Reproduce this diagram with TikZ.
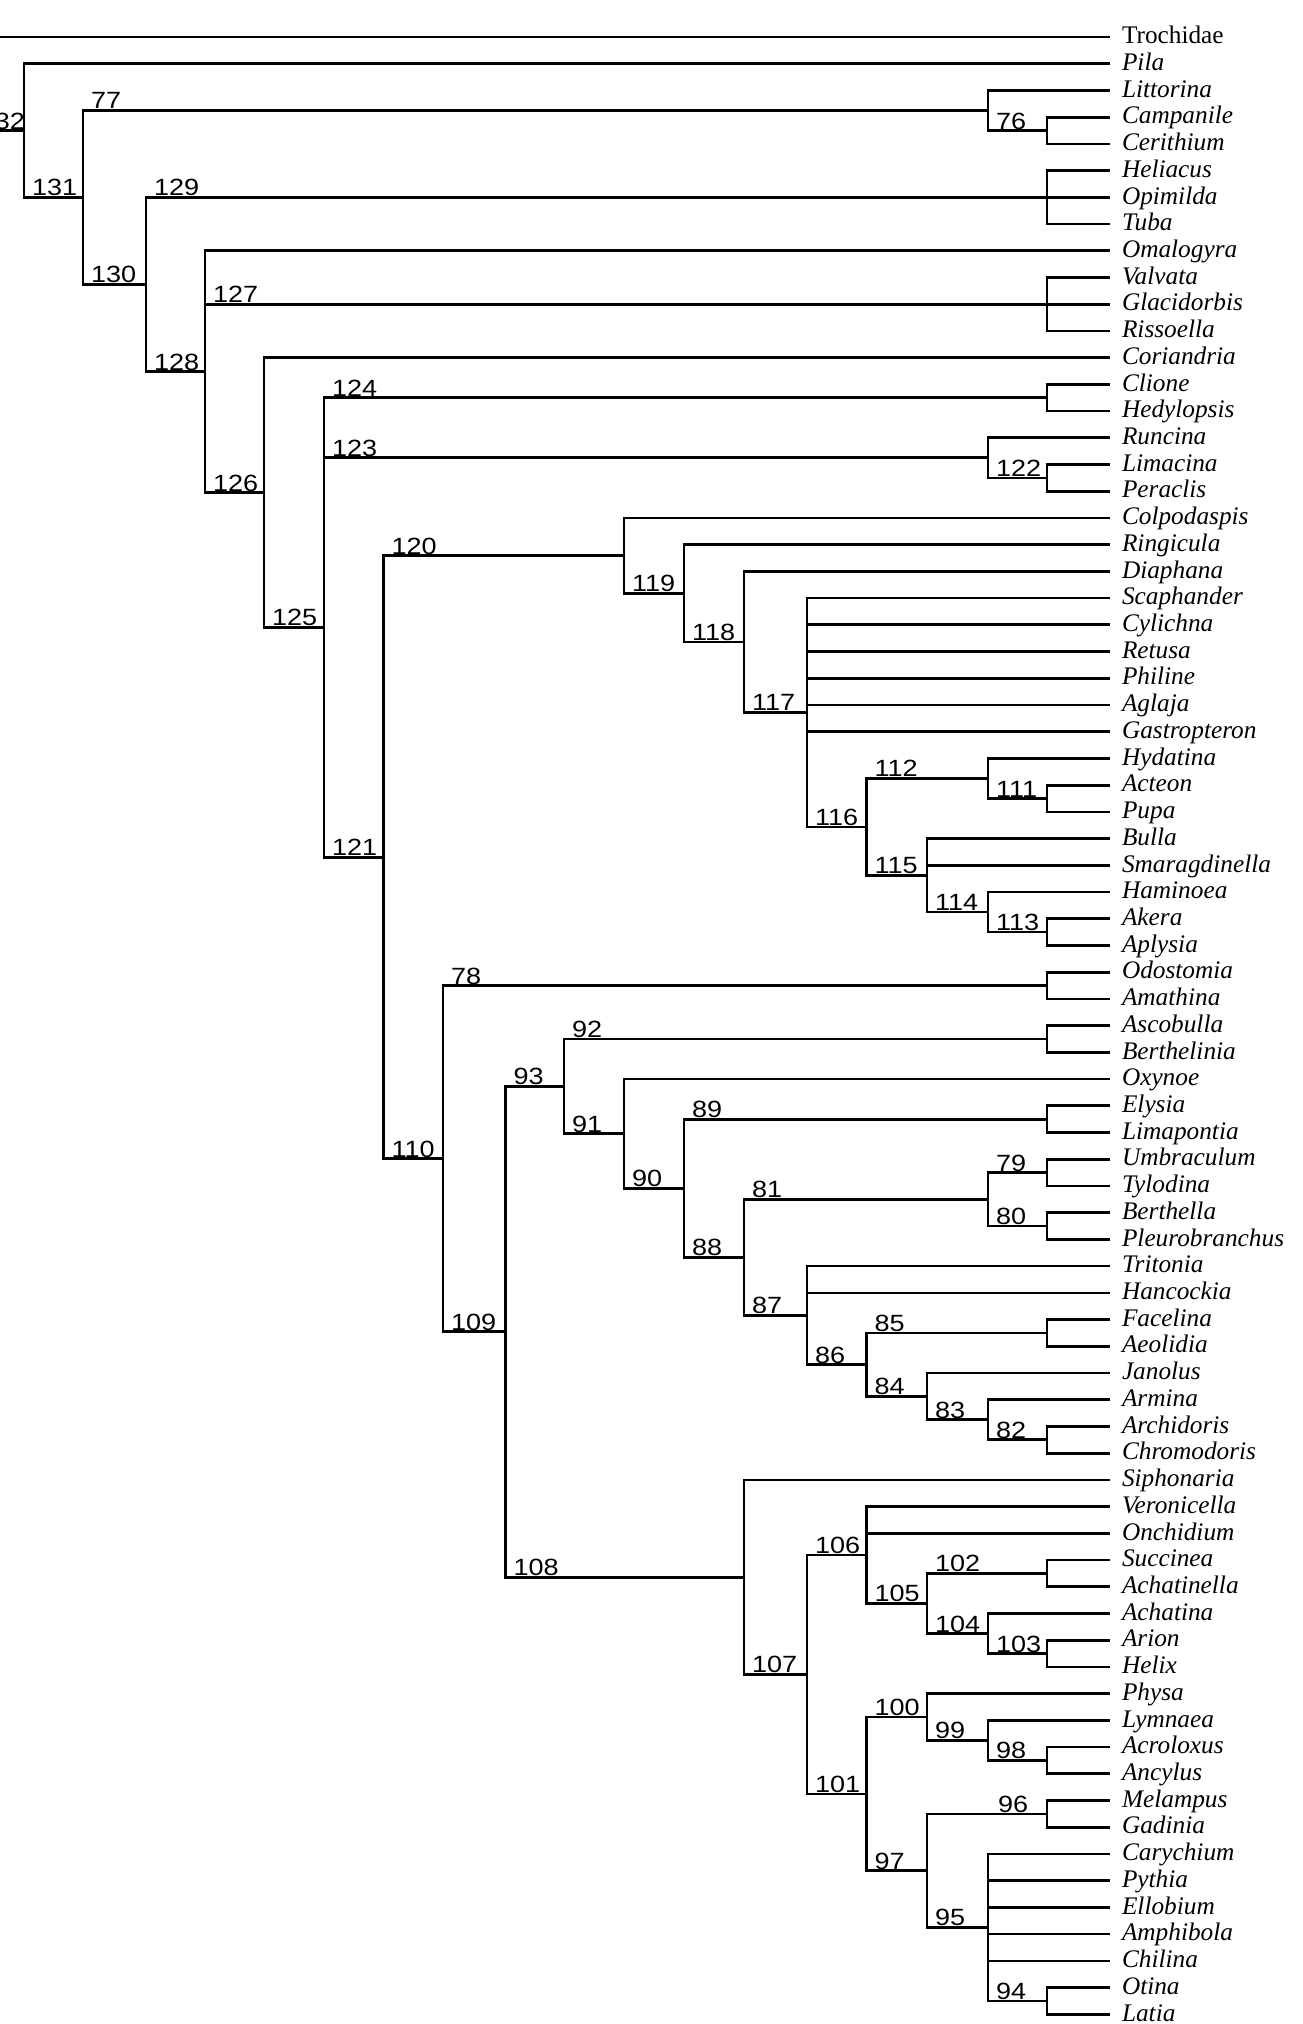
\documentclass[tikz,border=0pt]{standalone}
\usepackage{fontspec}
\setmainfont{Liberation Serif}
\newfontfamily\numfont{Liberation Sans}[FakeStretch=1.15]
\begin{document}
\begin{tikzpicture}[x=1pt, y=-26.72pt,
  br/.style={line width=2.7pt, line join=miter, line cap=butt},
  taxon/.style={anchor=base west, inner sep=0pt, outer sep=0pt, yshift=-6.7pt, font=\fontsize{25.3}{30}\selectfont\itshape},
  num/.style={anchor=base west, inner sep=0pt, outer sep=0pt, xshift=8pt, yshift=1.5pt, font=\numfont\fontsize{23.5}{28}\selectfont}]
\useasboundingbox (0,0) rectangle (1303,75.7485);
\clip (0,0) rectangle (1303,75.7485);
\begin{scope}[shift={(0,1.38473)}]
% tips
\coordinate (t0) at (1110,0);
\node[taxon, font=\fontsize{25.3}{30}\selectfont\upshape] (L0) at (1122,0) {Trochidae};
\foreach \nm [count=\i] in {Pila, Littorina, Campanile, Cerithium, Heliacus, Opimilda, Tuba, Omalogyra, Valvata, Glacidorbis, Rissoella, Coriandria, Clione, Hedylopsis, Runcina, Limacina, Peraclis, Colpodaspis, Ringicula, Diaphana, Scaphander, Cylichna, Retusa, Philine, Aglaja, Gastropteron, Hydatina, Acteon, Pupa, Bulla, Smaragdinella, Haminoea, Akera, Aplysia, Odostomia, Amathina, Ascobulla, Berthelinia, Oxynoe, Elysia, Limapontia, Umbraculum, Tylodina, Berthella, Pleurobranchus, Tritonia, Hancockia, Facelina, Aeolidia, Janolus, Armina, Archidoris, Chromodoris, Siphonaria, Veronicella, Onchidium, Succinea, Achatinella, Achatina, Arion, Helix, Physa, Lymnaea, Acroloxus, Ancylus, Melampus, Gadinia, Carychium, Pythia, Ellobium, Amphibola, Chilina, Otina, Latia}
{
  \coordinate (t\i) at (1110,\i);
  \node[taxon] (L\i) at (1122,\i) {\nm};
}
% internal nodes
\coordinate (root) at (-40,1.75);
\coordinate (n132) at (24,3.503);
\coordinate (n131) at (83,6.006);
\coordinate (n77) at (988,2.75);
\coordinate (n76) at (1047,3.5);
\coordinate (n130) at (146,9.262);
\coordinate (n129) at (1047,6);
\coordinate (n128) at (205,12.524);
\coordinate (n127) at (1047,10);
\coordinate (n126) at (264,17.049);
\coordinate (n125) at (324,22.0975);
\coordinate (n124) at (1047,13.5);
\coordinate (n123) at (988,15.75);
\coordinate (n122) at (1047,16.5);
\coordinate (n121) at (383.5,30.695);
\coordinate (n120) at (624,19.41);
\coordinate (n119) at (684,20.82);
\coordinate (n118) at (744,22.64);
\coordinate (n117) at (807,25.28);
\coordinate (n116) at (866.6,29.5625);
\coordinate (n112) at (988,27.75);
\coordinate (n111) at (1047,28.5);
\coordinate (n115) at (927,31.375);
\coordinate (n114) at (988,32.75);
\coordinate (n113) at (1047,33.5);
\coordinate (n110) at (443,41.98);
\coordinate (n78) at (1047,35.5);
\coordinate (n109) at (505.5,48.455);
\coordinate (n93) at (564,39.27);
\coordinate (n92) at (1047,37.5);
\coordinate (n91) at (624,41.0425);
\coordinate (n90) at (684,43.085);
\coordinate (n89) at (1047,40.5);
\coordinate (n88) at (744,45.67);
\coordinate (n81) at (988,43.5);
\coordinate (n79) at (1047,42.5);
\coordinate (n80) at (1047,44.5);
\coordinate (n87) at (807,47.84);
\coordinate (n86) at (866.6,49.6875);
\coordinate (n85) at (1047,48.5);
\coordinate (n84) at (927,50.875);
\coordinate (n83) at (988,51.75);
\coordinate (n82) at (1047,52.5);
\coordinate (n108) at (744,57.64);
\coordinate (n107) at (807,61.281);
\coordinate (n106) at (866.6,56.8125);
\coordinate (n105) at (927,58.625);
\coordinate (n102) at (1047,57.5);
\coordinate (n104) at (988,59.75);
\coordinate (n103) at (1047,60.5);
\coordinate (n101) at (866.6,65.75);
\coordinate (n100) at (927,62.875);
\coordinate (n99) at (988,63.75);
\coordinate (n98) at (1047,64.5);
\coordinate (n97) at (927,68.625);
\coordinate (n96) at (1047,66.5);
\coordinate (n95) at (988,70.75);
\coordinate (n94) at (1047,73.5);
% branches
\draw[br] (t0) -| (root) |- (n132);
\draw[br] (t1) -| (n132) |- (n131);
\draw[br] (n77) -| (n131) |- (n130);
\draw[br] (t2) -| (n77) |- (n76);
\draw[br] (t3) -| (n76) |- (t4);
\draw[br] (n129) -| (n130) |- (n128);
\draw[br] (t5) -| (n129) |- (t7);
\draw[br] (n129 |- t6) -- (t6);
\draw[br] (t8) -| (n128) |- (n126);
\draw[br] (n128 |- n127) -- (n127);
\draw[br] (t9) -| (n127) |- (t11);
\draw[br] (n127 |- t10) -- (t10);
\draw[br] (t12) -| (n126) |- (n125);
\draw[br] (n124) -| (n125) |- (n121);
\draw[br] (n125 |- n123) -- (n123);
\draw[br] (t13) -| (n124) |- (t14);
\draw[br] (t15) -| (n123) |- (n122);
\draw[br] (t16) -| (n122) |- (t17);
\draw[br] (n120) -| (n121) |- (n110);
\draw[br] (t18) -| (n120) |- (n119);
\draw[br] (t19) -| (n119) |- (n118);
\draw[br] (t20) -| (n118) |- (n117);
\draw[br] (t21) -| (n117) |- (n116);
\foreach \k in {22,...,26} { \draw[br] (n117 |- t\k) -- (t\k); }
\draw[br] (n112) -| (n116) |- (n115);
\draw[br] (t27) -| (n112) |- (n111);
\draw[br] (t28) -| (n111) |- (t29);
\draw[br] (t30) -| (n115) |- (n114);
\draw[br] (n115 |- t31) -- (t31);
\draw[br] (t32) -| (n114) |- (n113);
\draw[br] (t33) -| (n113) |- (t34);
\draw[br] (n78) -| (n110) |- (n109);
\draw[br] (t35) -| (n78) |- (t36);
\draw[br] (n93) -| (n109) |- (n108);
\draw[br] (n92) -| (n93) |- (n91);
\draw[br] (t37) -| (n92) |- (t38);
\draw[br] (t39) -| (n91) |- (n90);
\draw[br] (n89) -| (n90) |- (n88);
\draw[br] (t40) -| (n89) |- (t41);
\draw[br] (n81) -| (n88) |- (n87);
\draw[br] (n79) -| (n81) |- (n80);
\draw[br] (t42) -| (n79) |- (t43);
\draw[br] (t44) -| (n80) |- (t45);
\draw[br] (t46) -| (n87) |- (n86);
\draw[br] (n87 |- t47) -- (t47);
\draw[br] (n85) -| (n86) |- (n84);
\draw[br] (t48) -| (n85) |- (t49);
\draw[br] (t50) -| (n84) |- (n83);
\draw[br] (t51) -| (n83) |- (n82);
\draw[br] (t52) -| (n82) |- (t53);
\draw[br] (t54) -| (n108) |- (n107);
\draw[br] (n106) -| (n107) |- (n101);
\draw[br] (t55) -| (n106) |- (n105);
\draw[br] (n106 |- t56) -- (t56);
\draw[br] (n102) -| (n105) |- (n104);
\draw[br] (t57) -| (n102) |- (t58);
\draw[br] (t59) -| (n104) |- (n103);
\draw[br] (t60) -| (n103) |- (t61);
\draw[br] (n100) -| (n101) |- (n97);
\draw[br] (t62) -| (n100) |- (n99);
\draw[br] (t63) -| (n99) |- (n98);
\draw[br] (t64) -| (n98) |- (t65);
\draw[br] (n96) -| (n97) |- (n95);
\draw[br] (t66) -| (n96) |- (t67);
\draw[br] (t68) -| (n95) |- (n94);
\foreach \k in {69,...,72} { \draw[br] (n95 |- t\k) -- (t\k); }
\draw[br] (t73) -| (n94) |- (t74);
% node labels
\node[num, anchor=base east, xshift=0pt] (l132) at (17,3.503) {132};
\node[num] (l131) at (n132 |- n131) {131};
\node[num] (l77) at (n131 |- n77) {77};
\node[num] (l76) at (n77 |- n76) {76};
\node[num] (l130) at (n131 |- n130) {130};
\node[num] (l129) at (n130 |- n129) {129};
\node[num] (l128) at (n130 |- n128) {128};
\node[num] (l127) at (n128 |- n127) {127};
\node[num] (l126) at (n128 |- n126) {126};
\node[num] (l125) at (n126 |- n125) {125};
\node[num] (l124) at (n125 |- n124) {124};
\node[num] (l123) at (n125 |- n123) {123};
\node[num] (l122) at (n123 |- n122) {122};
\node[num] (l121) at (n125 |- n121) {121};
\node[num] (l120) at (n121 |- n120) {120};
\node[num] (l119) at (n120 |- n119) {119};
\node[num] (l118) at (n119 |- n118) {118};
\node[num] (l117) at (n118 |- n117) {117};
\node[num] (l116) at (n117 |- n116) {116};
\node[num] (l112) at (n116 |- n112) {112};
\node[num] (l111) at (n112 |- n111) {111};
\node[num] (l115) at (n116 |- n115) {115};
\node[num] (l114) at (n115 |- n114) {114};
\node[num] (l113) at (n114 |- n113) {113};
\node[num] (l110) at (n121 |- n110) {110};
\node[num] (l78) at (n110 |- n78) {78};
\node[num] (l109) at (n110 |- n109) {109};
\node[num] (l93) at (n109 |- n93) {93};
\node[num] (l92) at (n93 |- n92) {92};
\node[num] (l91) at (n93 |- n91) {91};
\node[num] (l90) at (n91 |- n90) {90};
\node[num] (l89) at (n90 |- n89) {89};
\node[num] (l88) at (n90 |- n88) {88};
\node[num] (l81) at (n88 |- n81) {81};
\node[num] (l79) at (n81 |- n79) {79};
\node[num] (l80) at (n81 |- n80) {80};
\node[num] (l87) at (n88 |- n87) {87};
\node[num] (l86) at (n87 |- n86) {86};
\node[num] (l85) at (n86 |- n85) {85};
\node[num] (l84) at (n86 |- n84) {84};
\node[num] (l83) at (n84 |- n83) {83};
\node[num] (l82) at (n83 |- n82) {82};
\node[num] (l108) at (n109 |- n108) {108};
\node[num] (l107) at (n108 |- n107) {107};
\node[num] (l106) at (n107 |- n106) {106};
\node[num] (l105) at (n106 |- n105) {105};
\node[num] (l102) at (n105 |- n102) {102};
\node[num] (l104) at (n105 |- n104) {104};
\node[num] (l103) at (n104 |- n103) {103};
\node[num] (l101) at (n107 |- n101) {101};
\node[num] (l100) at (n101 |- n100) {100};
\node[num] (l99) at (n100 |- n99) {99};
\node[num] (l98) at (n99 |- n98) {98};
\node[num] (l97) at (n101 |- n97) {97};
\node[num] (l96) at (990,66.5) {96};
\node[num] (l95) at (n97 |- n95) {95};
\node[num] (l94) at (n95 |- n94) {94};
\end{scope}
\end{tikzpicture}
\end{document}
